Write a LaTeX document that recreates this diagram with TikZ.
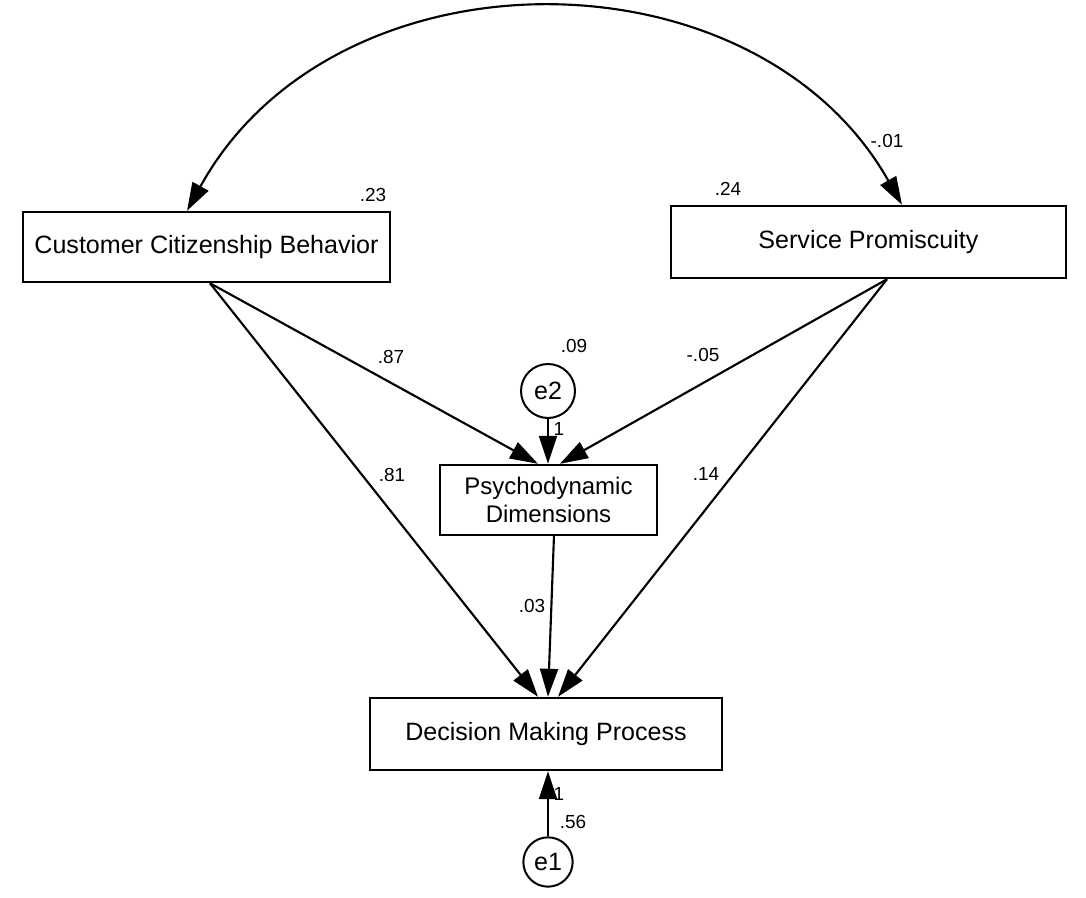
\documentclass[tikz,border=0pt]{standalone}
\usepackage{fontspec}
\setmainfont{Liberation Sans}
\usetikzlibrary{arrows.meta}
\begin{document}
\begin{tikzpicture}[x=0.75pt,y=-0.75pt,
  varbox/.style={draw,line width=1.8pt,inner sep=0pt,align=center,font=\fontsize{18.8}{22}\selectfont},
  errc/.style={draw,circle,line width=1.5pt,inner sep=0pt,font=\fontsize{18.8}{22}\selectfont},
  conn/.style={line width=1.6pt,-{Triangle[length=21pt,width=13.5pt]}},
  dconn/.style={line width=1.6pt,{Triangle[length=21pt,width=13.5pt]}-{Triangle[length=21pt,width=13.5pt]}},
  lbl/.style={inner sep=0pt,font=\fontsize{14.2}{16}\selectfont}]
\fill[white] (0,0) rectangle (1086,898);
\useasboundingbox (0,0) rectangle (1086,898);

\node[varbox,minimum width=275.25pt,minimum height=52.5pt] (ccb) at (206.5,247) {Customer Citizenship Behavior};
\node[varbox,minimum width=296.25pt,minimum height=54pt] (sp) at (868.5,242) {Service Promiscuity};
\node[varbox,minimum width=162.75pt,minimum height=52.5pt,font=\fontsize{18}{21}\selectfont] (pd) at (548.5,500) {Psychodynamic\\Dimensions};
\node[varbox,minimum width=264pt,minimum height=54pt] (dmp) at (546,734) {Decision Making Process};
\node[errc,minimum size=40.5pt] (e2) at (548,391) {e2};
\node[errc,minimum size=37pt] (e1) at (548,862) {e1};

% covariance arc
\draw[dconn] ([xshift=-14.6pt]ccb.north) .. controls +(147,-267) and +(-147,-260) .. ([xshift=25.1pt]sp.north);

% paths
\draw[conn] ([xshift=2.6pt]ccb.south) -- ([xshift=-7.9pt]pd.north);
\draw[conn] ([xshift=13.9pt]sp.south) -- ([xshift=8.6pt]pd.north);
\draw[conn] (e2.south) -- (e2.south |- pd.north);
\draw[conn] ([xshift=2.6pt]ccb.south) -- ([xshift=-6pt]dmp.north);
\draw[conn] ([xshift=13.9pt]sp.south) -- ([xshift=9pt]dmp.north);
\draw[conn] ([xshift=4.1pt]pd.south) -- ([xshift=1.5pt]dmp.north);
\draw[conn] (e1.north) -- (e1.north |- dmp.south);

% labels
\node[lbl] (l23) at (373,195) {.23};
\node[lbl] (l24) at (728,189) {.24};
\node[lbl] (l01) at (887,141) {-.01};
\node[lbl] (l87) at (391,357) {.87};
\node[lbl] (l81) at (392,475) {.81};
\node[lbl] (l09) at (574,346) {.09};
\node[lbl] (l05) at (703,355) {-.05};
\node[lbl] (l14) at (706,474) {.14};
\node[lbl] (le2) at (559,429) {1};
\node[lbl] (l03) at (532,606) {.03};
\node[lbl] (le1) at (559,794) {1};
\node[lbl] (l56) at (573,822) {.56};
\end{tikzpicture}
\end{document}
